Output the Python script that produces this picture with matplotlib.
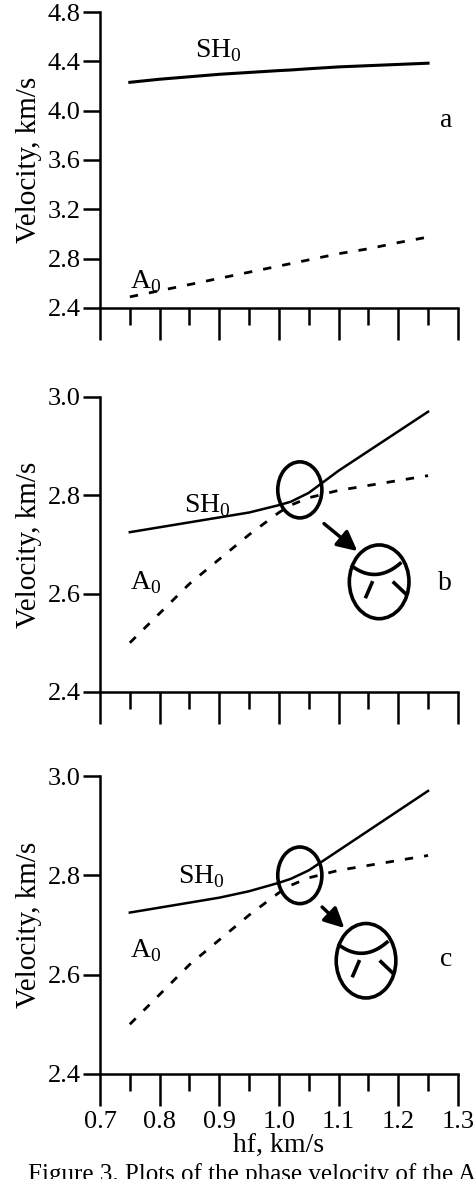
import matplotlib.pyplot as plt
import numpy as np
from matplotlib.patches import Ellipse

plt.rcParams['font.family'] = ['Liberation Serif', 'DejaVu Serif']
plt.rcParams['mathtext.fontset'] = 'custom'
plt.rcParams['mathtext.rm'] = 'Liberation Serif'

hf = [0.75, 0.80, 0.85, 0.90, 0.95, 1.00, 1.02, 1.05, 1.10, 1.15, 1.20, 1.25]
sh0_a = [4.23, 4.255, 4.275, 4.295, 4.31, 4.325, 4.33, 4.34, 4.355, 4.365, 4.375, 4.385]
a0_a = [2.49, 2.54, 2.59, 2.64, 2.69, 2.74, 2.76, 2.79, 2.84, 2.88, 2.93, 2.975]
sh0_b = [2.725, 2.735, 2.745, 2.755, 2.765, 2.78, 2.787, 2.805, 2.85, 2.89, 2.93, 2.97]
a0_b = [2.50, 2.56, 2.62, 2.67, 2.72, 2.765, 2.78, 2.795, 2.81, 2.82, 2.83, 2.84]
sh0_c = [2.725, 2.735, 2.745, 2.755, 2.768, 2.785, 2.793, 2.81, 2.85, 2.89, 2.93, 2.97]
a0_c = [2.50, 2.56, 2.62, 2.67, 2.72, 2.765, 2.78, 2.795, 2.81, 2.82, 2.83, 2.84]
xticks = [0.7, 0.8, 0.9, 1.0, 1.1, 1.2, 1.3]

fig = plt.figure(figsize=(4.74, 11.79), dpi=100)
boxes = [(0.7388, 0.9898), (0.4131, 0.6633), (0.0891, 0.3418)]
ylims = [(2.4, 4.8), (2.4, 3.0), (2.4, 3.0)]
ysteps = [0.4, 0.2, 0.2]
series = [(sh0_a, a0_a), (sh0_b, a0_b), (sh0_c, a0_c)]
letters = ['a', 'b', 'c']
letter_y = [3.92, 2.62, 2.63]
axes = []
for i in range(3):
    b0, t0 = boxes[i]
    ax = fig.add_axes([0.211, b0, 0.755, t0 - b0])
    sh, a0 = series[i]
    ax.plot(hf, sh, 'k-', lw=2.2 if i == 0 else 1.8)
    ax.plot(hf, a0, 'k--', lw=2, dashes=(3, 4))
    ax.set_xlim(0.7, 1.3)
    ax.set_ylim(*ylims[i])
    ax.set_yticks(np.arange(ylims[i][0], ylims[i][1] + 0.01, ysteps[i]))
    ax.yaxis.set_major_formatter(plt.FormatStrFormatter('%.1f'))
    ax.set_xticks(xticks)
    ax.set_xticks(np.arange(0.75, 1.3, 0.1), minor=True)
    ax.tick_params(axis='x', which='major', direction='out', length=23, width=1.8)
    ax.tick_params(axis='x', which='minor', direction='out', length=12, width=1.8)
    ax.tick_params(axis='y', direction='out', length=12, width=1.8, labelsize=19, pad=2)
    ax.tick_params(axis='x', labelsize=19)
    if i < 2:
        ax.set_xticklabels([])
    for s in ['top', 'right']:
        ax.spines[s].set_visible(False)
    for s in ['left', 'bottom']:
        ax.spines[s].set_linewidth(1.8)
    ax.set_ylabel('Velocity, km/s', fontsize=21, labelpad=4)
    ax.text(1.29, letter_y[i], letters[i], fontsize=20, ha='right', va='center')
    axes.append(ax)

axes[0].text(0.86, 4.43, 'SH$_0$', fontsize=20)
axes[0].text(0.75, 2.56, 'A$_0$', fontsize=20)
axes[1].text(0.84, 2.765, 'SH$_0$', fontsize=20)
axes[1].text(0.75, 2.61, 'A$_0$', fontsize=20)
axes[2].text(0.83, 2.785, 'SH$_0$', fontsize=20)
axes[2].text(0.75, 2.635, 'A$_0$', fontsize=20)

zoom = [
    dict(small=(1.035, 2.811), big=(1.168, 2.624), arr=((1.072, 2.746), (1.135, 2.683))),
    dict(small=(1.035, 2.80), big=(1.146, 2.628), arr=((1.069, 2.74), (1.113, 2.69))),
]
for ax, z in zip(axes[1:], zoom):
    ax.add_patch(Ellipse(z['small'], 0.074, 0.114, fill=False, lw=2.6, color='k'))
    ax.add_patch(Ellipse(z['big'], 0.10, 0.15, fill=False, lw=2.6, color='k'))
    ax.annotate('', xy=z['arr'][1], xytext=z['arr'][0],
                arrowprops=dict(arrowstyle='-|>,head_length=1.2,head_width=0.6', lw=2.5, color='k'))
    cx, cy = z['big']
    t = np.linspace(-0.045, 0.035, 30)
    ax.plot(cx + t, cy + 0.015 + 12 * (t + 0.008) ** 2, 'k-', lw=2.6)
    ax.plot([cx - 0.012, cx - 0.022], [cy - 0.002, cy - 0.03], 'k-', lw=2.6)
    ax.plot([cx + 0.025, cx + 0.045], [cy - 0.002, cy - 0.025], 'k-', lw=2.6)

axes[2].set_xlabel('hf, km/s', fontsize=20, labelpad=0)
fig.text(0.06, -0.006, 'Figure 3. Plots of the phase velocity of the A', fontsize=18, va='bottom')
fig.savefig('out.png', dpi=100)
